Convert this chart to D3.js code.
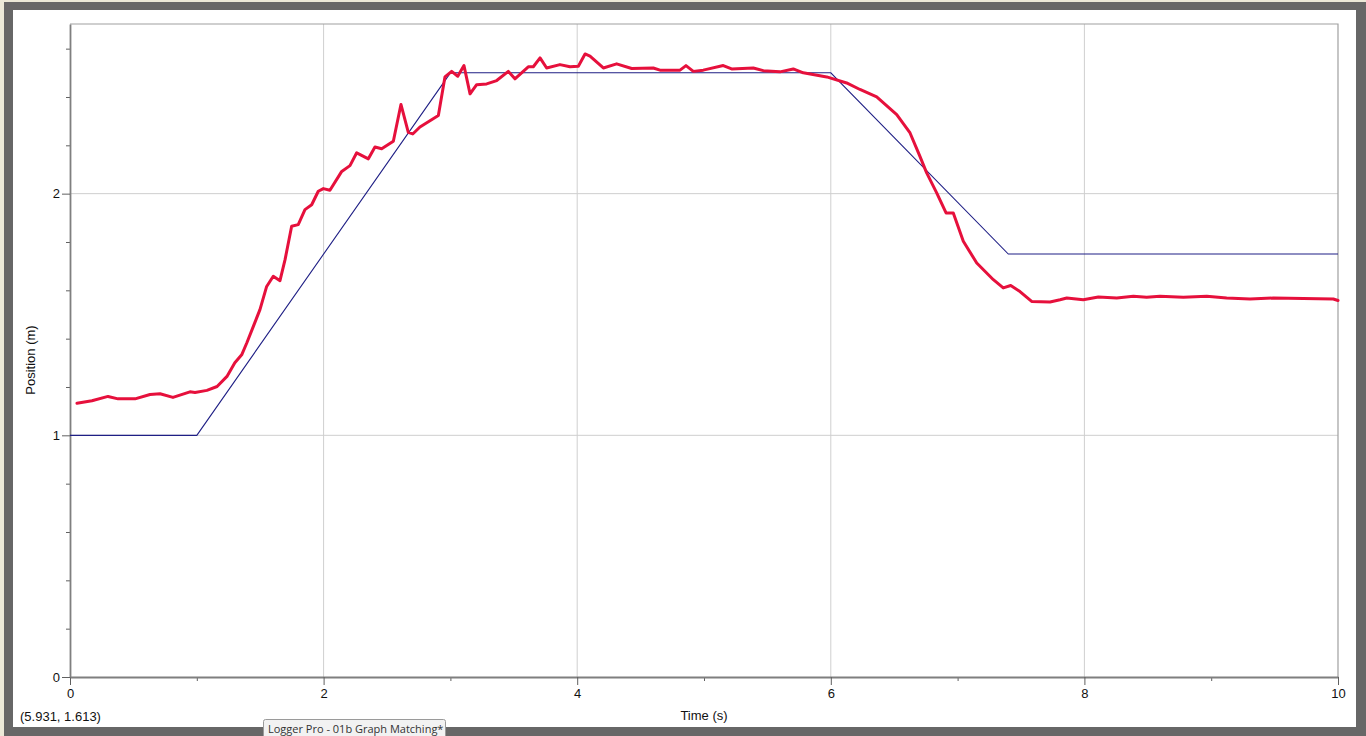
<!DOCTYPE html>
<html>
<head>
<meta charset="utf-8">
<script src="https://cdnjs.cloudflare.com/ajax/libs/d3/7.8.5/d3.min.js"></script>
<style>
html,body{margin:0;padding:0;background:#fff;overflow:hidden;}
svg{display:block;}
</style>
</head>
<body>
<svg id="chart" width="1366" height="736"></svg>
<script>
// ---- data ----
const time = [0.055,0.173,0.30,0.379,0.513,0.631,0.71,0.812,0.946,0.986,1.08,1.16,1.24,1.30,1.354,1.394,1.446,1.498,1.551,1.603,1.656,1.696,1.748,1.800,1.853,1.906,1.958,1.998,2.050,2.143,2.208,2.261,2.353,2.405,2.458,2.550,2.610,2.668,2.703,2.760,2.905,2.957,3.010,3.058,3.107,3.155,3.207,3.286,3.365,3.457,3.509,3.614,3.654,3.707,3.759,3.864,3.943,4.009,4.062,4.101,4.206,4.311,4.430,4.600,4.653,4.811,4.858,4.916,4.994,5.152,5.218,5.389,5.468,5.599,5.704,5.783,5.968,6.125,6.230,6.362,6.520,6.625,6.703,6.756,6.835,6.909,6.966,7.045,7.151,7.282,7.360,7.419,7.492,7.584,7.729,7.808,7.861,7.991,8.110,8.255,8.386,8.491,8.596,8.780,8.965,9.122,9.306,9.490,9.726,9.963,10.0];
const position = [1.133,1.143,1.161,1.151,1.151,1.169,1.172,1.157,1.180,1.177,1.186,1.202,1.245,1.300,1.333,1.382,1.451,1.520,1.616,1.658,1.640,1.727,1.865,1.872,1.934,1.954,2.010,2.021,2.014,2.092,2.116,2.169,2.144,2.193,2.186,2.217,2.369,2.254,2.247,2.276,2.323,2.483,2.506,2.486,2.530,2.413,2.451,2.454,2.468,2.506,2.475,2.525,2.525,2.562,2.520,2.534,2.525,2.527,2.578,2.569,2.520,2.537,2.518,2.520,2.511,2.511,2.530,2.506,2.511,2.530,2.516,2.520,2.509,2.504,2.516,2.500,2.483,2.458,2.431,2.400,2.327,2.251,2.154,2.086,2.003,1.920,1.920,1.803,1.713,1.644,1.610,1.620,1.595,1.554,1.552,1.561,1.568,1.561,1.572,1.568,1.575,1.571,1.575,1.571,1.575,1.568,1.564,1.568,1.566,1.564,1.558];
const modelTime = [0, 1, 3, 6, 7.4, 10];
const modelPosition = [1, 1, 2.5, 2.5, 1.75, 1.75];
const xMajorTicks = [0, 2, 4, 6, 8, 10];
const xMinorTicks = [1, 3, 5, 7, 9];
const yMajorTicks = [0, 1, 2];
const yMinorTicks = [0.2, 0.4, 0.6, 0.8, 1.2, 1.4, 1.6, 1.8, 2.2, 2.4, 2.6];
const xLabel = "Time (s)";
const yLabel = "Position (m)";
const cursorText = "(5.931, 1.613)";
const tabText = "Logger Pro - 01b Graph Matching*";

// ---- layout ----
const svg = d3.select("#chart");
const L = 70, R = 1338, T = 24, B = 677;
const x = d3.scaleLinear().domain([0, 10]).range([L, R]);
const y = d3.scaleLinear().domain([0, 2.702]).range([B, T]);
const font = "'Liberation Sans', Arial, sans-serif";

// window frame
svg.append("rect").attr("x",0).attr("y",0).attr("width",1366).attr("height",736).attr("fill","#ece9d8");
svg.append("rect").attr("x",4).attr("y",2).attr("width",1362).attr("height",734).attr("fill","#676767");
svg.append("rect").attr("x",13).attr("y",10).attr("width",1343).attr("height",717).attr("fill","#ffffff");

// grid
const grid = svg.append("g");
grid.selectAll("line.gx").data(xMajorTicks.filter(d => d > 0 && d < 10)).join("line")
  .attr("x1", d => x(d)).attr("x2", d => x(d)).attr("y1", T).attr("y2", B)
  .attr("stroke", "#cfcfcf").attr("stroke-width", 1);
grid.selectAll("line.gy").data(yMajorTicks.filter(d => d > 0)).join("line")
  .attr("x1", L).attr("x2", R).attr("y1", d => y(d)).attr("y2", d => y(d))
  .attr("stroke", "#cfcfcf").attr("stroke-width", 1);

// plot border (top, right)
svg.append("path").attr("d", `M${L},${T}H${R}V${B}`).attr("fill","none").attr("stroke","#a0a0a0").attr("stroke-width",1.2);

// axes
const xAxis = d3.axisBottom(x).tickValues(xMajorTicks).tickSize(8).tickSizeOuter(0).tickPadding(4).tickFormat(d3.format("d"));
const xMinor = d3.axisBottom(x).tickValues(xMinorTicks).tickSize(4).tickFormat("");
const yAxis = d3.axisLeft(y).tickValues(yMajorTicks).tickSize(8).tickSizeOuter(0).tickPadding(2).tickFormat(d3.format("d"));
const yMinor = d3.axisLeft(y).tickValues(yMinorTicks).tickSize(4).tickFormat("");

function styleAxis(g){
  g.select(".domain").attr("stroke","#7f7f7f").attr("stroke-width",1.8);
  g.selectAll(".tick line").attr("stroke","#606060").attr("stroke-width",1);
  g.selectAll(".tick text").attr("fill","#111").style("font-family",font).style("font-size","13px");
}
svg.append("g").attr("transform",`translate(0,${B})`).call(xMinor).call(styleAxis).select(".domain").remove();
svg.append("g").attr("transform",`translate(${L},0)`).call(yMinor).call(styleAxis).select(".domain").remove();
svg.append("g").attr("transform",`translate(0,${B})`).call(xAxis).call(styleAxis);
svg.append("g").attr("transform",`translate(${L},0)`).call(yAxis).call(styleAxis);

// clip
svg.append("clipPath").attr("id","clip").append("rect").attr("x",L).attr("y",T).attr("width",R-L+2).attr("height",B-T);

// model line
const modelData = modelTime.map((t,i)=>({t, v: modelPosition[i]}));
svg.append("path").datum(modelData).attr("clip-path","url(#clip)")
  .attr("d", d3.line().x(d=>x(d.t)).y(d=>y(d.v)))
  .attr("fill","none").attr("stroke","#1f1f85").attr("stroke-width",1.1);

// measured line
const data = time.map((t,i)=>({t, v: position[i]}));
svg.append("path").datum(data).attr("clip-path","url(#clip)")
  .attr("d", d3.line().x(d=>x(d.t)).y(d=>y(d.v)))
  .attr("fill","none").attr("stroke","#e6103c").attr("stroke-width",3).attr("stroke-linejoin","round").attr("stroke-linecap","round");

// labels
svg.append("text").attr("x", (L+R)/2).attr("y", 720).attr("text-anchor","middle")
  .style("font-family",font).style("font-size","13px").attr("fill","#111").text(xLabel);
svg.append("text").attr("transform","translate(35,360) rotate(-90)").attr("text-anchor","middle")
  .style("font-family",font).style("font-size","13px").attr("fill","#111").text(yLabel);
svg.append("text").attr("x", 20).attr("y", 721)
  .style("font-family",font).style("font-size","13px").attr("fill","#111").text(cursorText);

// taskbar tab
const tab = svg.append("g");
tab.append("rect").attr("x",263.5).attr("y",719.5).attr("width",182).attr("height",20).attr("rx",2)
  .attr("fill","#f2f2f2").attr("stroke","#9a9a9a");
tab.append("text").attr("x",268).attr("y",732.5).style("font-family","'Open Sans', 'Noto Sans', sans-serif")
  .style("font-size","11px").attr("fill","#333").text(tabText);
</script>
</body>
</html>
